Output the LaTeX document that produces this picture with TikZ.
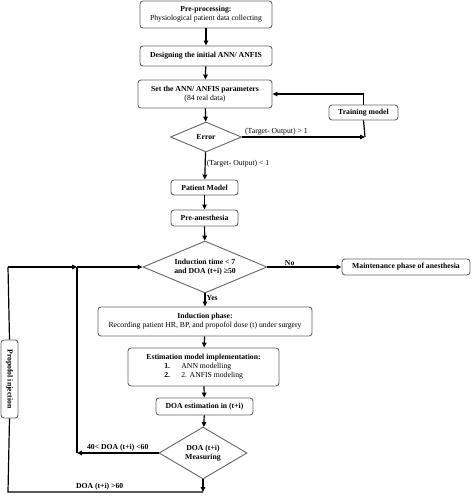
\documentclass[tikz,border=0pt]{standalone}
\usepackage{fontspec}
\setmainfont{Liberation Serif}
\usetikzlibrary{arrows.meta,shapes.geometric}
\begin{document}
\begin{tikzpicture}[x=1pt,y=-1pt,
  font=\fontsize{7.7}{8.8}\selectfont,
  box/.style={draw=black!60,line width=0.9pt,rounded corners=3pt,inner sep=1pt,align=center},
  dia/.style={draw=black!60,line width=0.9pt,diamond,inner sep=0pt,align=center},
  conn/.style={line width=1.2pt,-{Triangle[length=5pt,width=4.5pt]}},
  plain/.style={line width=1.2pt},
  lbl/.style={inner sep=1pt}]
\useasboundingbox (0,0) rectangle (474,496);
\node[box,minimum width=132pt,minimum height=27pt] (pre) at (206,14.5) {\textbf{Pre-processing:}\\Physiological patient data collecting};
\node[box,minimum width=132pt,minimum height=20pt] (design) at (206,56) {\textbf{Designing the initial ANN/ ANFIS}};
\node[box,minimum width=134pt,minimum height=28pt] (setp) at (205,94) {\textbf{Set the ANN/ ANFIS parameters}\\(84 real data)};
\node[box,minimum width=69pt,minimum height=15pt] (train) at (363.5,112.5) {\textbf{Training model}};
\node[dia,aspect=2.37,minimum width=71pt,minimum height=30pt] (err) at (206,137) {\textbf{Error}};
\node[box,minimum width=67pt,minimum height=15pt] (patient) at (204.5,187.5) {\textbf{Patient Model}};
\node[box,minimum width=67pt,minimum height=16pt] (preanes) at (204.5,218) {\textbf{Pre-anesthesia}};
\node[dia,aspect=2.4,minimum width=124pt,minimum height=52pt] (induct) at (205,267) {\textbf{Induction time < 7}\\\textbf{and DOA (t+i) ≥50}};
\node[box,minimum width=128pt,minimum height=16pt] (maint) at (406,267) {\textbf{Maintenance phase of anesthesia}};
\node[box,minimum width=214pt,minimum height=29pt] (indphase) at (205,321.5) {\textbf{Induction phase:}\\Recording patient HR, BP, and propofol dose (t) under surgery};
\node[box,minimum width=151pt,minimum height=38pt] (estim) at (203.5,367) {\begin{tabular}{@{}l@{}}\textbf{Estimation model implementation:}\\\hspace{18pt}\makebox[17pt][l]{\textbf{1.}}ANN modelling\\\hspace{18pt}\makebox[17pt][l]{\textbf{2.}}2. ANFIS modeling\end{tabular}};
\node[box,minimum width=97pt,minimum height=17pt] (doaest) at (204.5,406.5) {\textbf{DOA estimation in (t+i)}};
\node[dia,aspect=1.7,minimum width=88pt,minimum height=52pt] (meas) at (203,453) {\textbf{DOA (t+i)}\\\textbf{Measuring}};
\node[box,rotate=-90,minimum width=78pt,minimum height=17pt] (prop) at (9.5,379) {\textbf{Propofol injection}};
\coordinate (c1) at (365,137);
\coordinate (jn) at (77,267);
\coordinate (lt) at (8,267);
\coordinate (ml) at (77,453);
\coordinate (mb) at (203,492);
\coordinate (lb) at (8,492);
\draw[conn] (pre) -- (design);
\draw[conn] (design) -- (setp);
\draw[conn] (setp) -- (err);
\draw[conn] (err) -- node[lbl,right,pos=0.4]{(Target- Output) < 1} (patient);
\draw[conn] (patient) -- (preanes);
\draw[conn] (preanes) -- (induct);
\draw[conn] (induct) -- node[lbl,above,pos=0.3]{\textbf{No}} (maint);
\draw[conn] (induct) -- node[lbl,right,pos=0.35]{\textbf{Yes}} (indphase);
\draw[conn] (indphase) -- (estim);
\draw[conn] (estim) -- (doaest);
\draw[conn] (doaest) -- (meas);
\draw[conn] (err.east) -- node[lbl,above,pos=0.28]{(Target- Output) > 1} (c1);
\draw[plain] (c1) -- (train.south);
\draw[conn] (train.north) |- (setp.east);
\draw[conn] (meas.west) -- node[lbl,above]{\textbf{40< DOA (t+i) <60}} (ml);
\draw[plain] (ml) -- (jn);
\draw[conn] (lt) -- (jn);
\draw[conn] (jn) -- (induct.west);
\draw[conn] (meas.south) -- (mb);
\draw[plain] (mb) -- node[lbl,above,pos=0.53]{\textbf{DOA (t+i) >60}} (lb) -- (prop.east);
\draw[plain] (prop.west) -- (lt);
\end{tikzpicture}
\end{document}
